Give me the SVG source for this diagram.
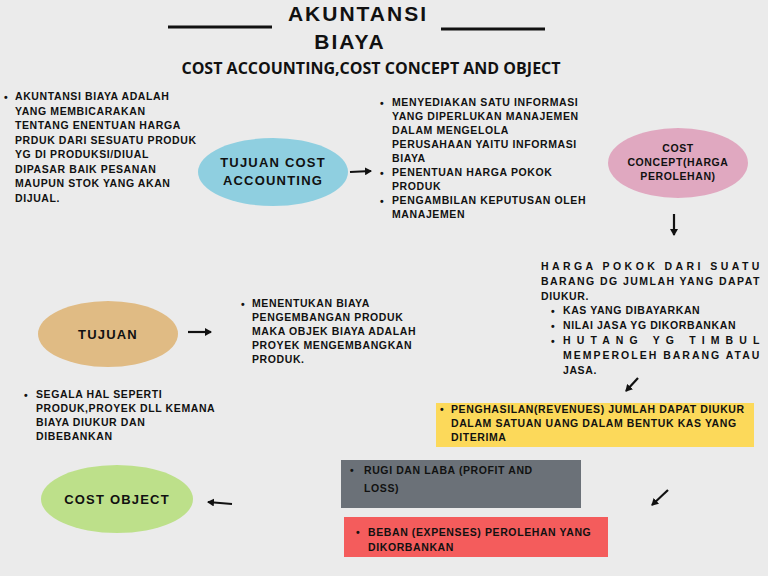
<svg xmlns="http://www.w3.org/2000/svg" width="768" height="576" viewBox="0 0 768 576">
<defs>
<marker id="ah" markerWidth="8" markerHeight="8" refX="6" refY="4" orient="auto" markerUnits="userSpaceOnUse"><path d="M0,0 L7,4 L0,8 Z" fill="#111"/></marker>
<style>
text{font-family:"Liberation Sans",Arial,sans-serif;font-weight:bold;fill:#111}
.t{font-size:10.5px;letter-spacing:0.6px}
.n{font-size:13px;letter-spacing:1.2px}
.c{stroke:#111;stroke-width:2.2;fill:none}
</style>
</defs>
<rect width="768" height="576" fill="#ebebeb"/>
<g id="title">
<line x1="168" y1="27" x2="272" y2="27" stroke="#111" stroke-width="3"/>
<line x1="441" y1="29" x2="545" y2="29" stroke="#111" stroke-width="3"/>
<text x="358" y="21" text-anchor="middle" font-size="21" letter-spacing="2">AKUNTANSI</text>
<text x="350" y="49" text-anchor="middle" font-size="21" letter-spacing="2">BIAYA</text>
<text x="371" y="74" text-anchor="middle" font-size="16" style="font-family:'Open Sans',sans-serif">COST ACCOUNTING,COST CONCEPT AND OBJECT</text>
</g>
<g id="desc-left">
<text class="t" x="4" y="101">•</text>
<text class="t" x="15" y="100">AKUNTANSI BIAYA ADALAH</text>
<text class="t" x="15" y="114.5">YANG MEMBICARAKAN</text>
<text class="t" x="15" y="129">TENTANG ENENTUAN HARGA</text>
<text class="t" x="15" y="143.5">PRDUK DARI SESUATU PRODUK</text>
<text class="t" x="15" y="158">YG DI PRODUKSI/DIUAL</text>
<text class="t" x="15" y="172.5">DIPASAR BAIK PESANAN</text>
<text class="t" x="15" y="187">MAUPUN STOK YANG AKAN</text>
<text class="t" x="15" y="201.5">DIJUAL.</text>
</g>
<g id="tujuan-cost">
<ellipse cx="273" cy="172" rx="75" ry="34" fill="#8fcfe0"/>
<text class="n" x="273" y="167" text-anchor="middle">TUJUAN COST</text>
<text class="n" x="273" y="185" text-anchor="middle">ACCOUNTING</text>
</g>
<g id="list-mid">
<text class="t" x="380" y="107">•</text>
<text class="t" x="392" y="106">MENYEDIAKAN SATU INFORMASI</text>
<text class="t" x="392" y="120">YANG DIPERLUKAN MANAJEMEN</text>
<text class="t" x="392" y="134">DALAM MENGELOLA</text>
<text class="t" x="392" y="148">PERUSAHAAN YAITU INFORMASI</text>
<text class="t" x="392" y="162">BIAYA</text>
<text class="t" x="380" y="177">•</text>
<text class="t" x="392" y="176">PENENTUAN HARGA POKOK</text>
<text class="t" x="392" y="190">PRODUK</text>
<text class="t" x="380" y="205">•</text>
<text class="t" x="392" y="204">PENGAMBILAN KEPUTUSAN OLEH</text>
<text class="t" x="392" y="218">MANAJEMEN</text>
</g>
<g id="cost-concept">
<ellipse cx="678" cy="163" rx="70" ry="35" fill="#e0a8c0"/>
<text class="t" x="678" y="152" text-anchor="middle">COST</text>
<text class="t" x="678" y="166" text-anchor="middle">CONCEPT(HARGA</text>
<text class="t" x="678" y="180" text-anchor="middle">PEROLEHAN)</text>
</g>
<g id="harga-text">
<text class="t" x="541" y="270" textLength="219">HARGA POKOK DARI SUATU</text>
<text class="t" x="541" y="285" textLength="219">BARANG DG JUMLAH YANG DAPAT</text>
<text class="t" x="541" y="300">DIUKUR.</text>
<text class="t" x="551" y="315">•</text>
<text class="t" x="563" y="314">KAS YANG DIBAYARKAN</text>
<text class="t" x="551" y="330">•</text>
<text class="t" x="563" y="329">NILAI JASA YG DIKORBANKAN</text>
<text class="t" x="551" y="345">•</text>
<text class="t" x="563" y="344" textLength="197">HUTANG YG TIMBUL</text>
<text class="t" x="563" y="359" textLength="197">MEMPEROLEH BARANG ATAU</text>
<text class="t" x="563" y="374">JASA.</text>
</g>
<g id="revenues">
<rect x="436" y="403" width="318" height="44" fill="#fcd95a"/>
<text class="t" x="440" y="413">•</text>
<text class="t" x="451" y="413">PENGHASILAN(REVENUES) JUMLAH DAPAT DIUKUR</text>
<text class="t" x="451" y="427">DALAM SATUAN UANG DALAM BENTUK KAS YANG</text>
<text class="t" x="451" y="441">DITERIMA</text>
</g>
<g id="tujuan">
<ellipse cx="108" cy="334" rx="70" ry="33" fill="#e0bb84"/>
<text class="n" x="108" y="339" text-anchor="middle">TUJUAN</text>
</g>
<g id="tujuan-text">
<text class="t" x="241" y="308">•</text>
<text class="t" x="252" y="307">MENENTUKAN BIAYA</text>
<text class="t" x="252" y="321">PENGEMBANGAN PRODUK</text>
<text class="t" x="252" y="335">MAKA OBJEK BIAYA ADALAH</text>
<text class="t" x="252" y="349">PROYEK MENGEMBANGKAN</text>
<text class="t" x="252" y="363">PRODUK.</text>
</g>
<g id="object-text">
<text class="t" x="24" y="399">•</text>
<text class="t" x="36" y="398">SEGALA HAL SEPERTI</text>
<text class="t" x="36" y="412">PRODUK,PROYEK DLL KEMANA</text>
<text class="t" x="36" y="426">BIAYA DIUKUR DAN</text>
<text class="t" x="36" y="440">DIBEBANKAN</text>
</g>
<g id="cost-object">
<ellipse cx="117" cy="499" rx="76" ry="34" fill="#bde08a"/>
<text class="n" x="117" y="504" text-anchor="middle">COST OBJECT</text>
</g>
<g id="rugi-laba">
<rect x="341" y="460" width="240" height="48" fill="#6b7178"/>
<text class="t" x="350" y="474">•</text>
<text class="t" x="364" y="474">RUGI DAN LABA (PROFIT AND</text>
<text class="t" x="364" y="492">LOSS)</text>
</g>
<g id="beban">
<rect x="344" y="517" width="264" height="40" fill="#f45c5c"/>
<text class="t" x="356" y="536">•</text>
<text class="t" x="368" y="536">BEBAN (EXPENSES) PEROLEHAN YANG</text>
<text class="t" x="368" y="551">DIKORBANKAN</text>
</g>
<g id="connectors">
<line class="c" x1="350" y1="172" x2="371" y2="171" marker-end="url(#ah)"/>
<line class="c" x1="674" y1="214" x2="674" y2="235" marker-end="url(#ah)"/>
<line class="c" x1="638" y1="378" x2="626" y2="391" marker-end="url(#ah)"/>
<line class="c" x1="188" y1="332" x2="211" y2="332" marker-end="url(#ah)"/>
<line class="c" x1="668" y1="490" x2="652" y2="505" marker-end="url(#ah)"/>
<line class="c" x1="232" y1="504" x2="208" y2="502" marker-end="url(#ah)"/>
</g>
</svg>
